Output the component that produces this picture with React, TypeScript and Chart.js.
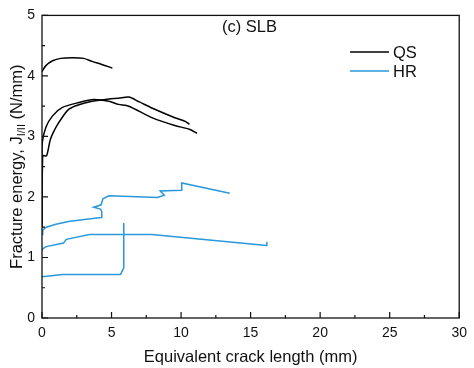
import React, { useEffect, useRef } from "react";
import { Chart, registerables } from "chart.js";

Chart.register(...registerables);

const xTicks = [0, 5, 10, 15, 20, 25, 30];
const yTicks = [0, 1, 2, 3, 4, 5];
const seriesNames = ["QS", "HR"];
const panelLabel = "(c) SLB";

// QS curves
const qs1X = [0, 0.28, 0.76, 1.35, 2.2, 3.0, 3.6, 4.3, 5.06];
const qs1Y = [4.07, 4.17, 4.25, 4.29, 4.3, 4.29, 4.24, 4.19, 4.13];

const qs2X = [0.0, 0.05, 0.33, 0.6, 1.0, 1.5, 1.94, 2.6, 3.6, 4.82, 5.5, 6.24, 7.0, 7.9, 9.55, 10.3, 10.6];
const qs2Y = [1.55, 2.68, 2.68, 2.95, 3.15, 3.33, 3.45, 3.52, 3.58, 3.62, 3.63, 3.65, 3.57, 3.47, 3.31, 3.25, 3.2];

const qs3X = [0.0, 0.0, 0.28, 0.76, 1.47, 2.65, 3.7, 4.8, 5.5, 6.24, 7.9, 9.55, 10.6, 11.15];
const qs3Y = [1.5, 2.83, 3.15, 3.34, 3.48, 3.56, 3.61, 3.58, 3.53, 3.5, 3.31, 3.18, 3.12, 3.05];

// HR curves
const hr1X = [0.0, 0.05, 0.3, 1.0, 2.0, 4.25, 4.3, 4.2, 3.72, 4.25, 4.38, 4.8, 8.3, 8.8, 8.5, 10.05, 10.05, 13.5];
const hr1Y = [1.38, 1.45, 1.5, 1.55, 1.6, 1.66, 1.76, 1.8, 1.83, 1.87, 1.97, 2.02, 1.99, 2.03, 2.1, 2.11, 2.23, 2.06];

const hr2X = [0.0, 0.1, 0.3, 1.55, 1.75, 3.4, 7.9, 16.15, 16.17];
const hr2Y = [1.12, 1.15, 1.18, 1.24, 1.3, 1.38, 1.38, 1.2, 1.26];

const hr3X = [0.0, 1.5, 5.65, 5.8, 5.88, 5.88];
const hr3Y = [0.68, 0.72, 0.72, 0.79, 0.83, 1.57];

const QS_COLOR = "#000000";
const HR_COLOR = "#2A98DC";
const FONT = "'Liberation Sans', Arial, sans-serif";

function pts(xs: number[], ys: number[]) {
  return xs.map((x, i) => ({ x, y: ys[i] }));
}

const decorPlugin = {
  id: "decor",
  afterDraw(chart: any) {
    const ctx = chart.ctx as CanvasRenderingContext2D;
    const { left, right, top, bottom } = chart.chartArea;
    const xs = chart.scales.x;
    const ys = chart.scales.y;
    ctx.save();
    ctx.strokeStyle = "#111";
    ctx.lineWidth = 1.3;
    ctx.strokeRect(left, top, right - left, bottom - top);
    ctx.lineWidth = 1.2;
    ctx.beginPath();
    for (let v = 0; v <= 30; v += 2.5) {
      const px = xs.getPixelForValue(v);
      const len = v % 5 === 0 ? 6 : 3;
      ctx.moveTo(px, bottom);
      ctx.lineTo(px, bottom - len);
    }
    for (let v = 0; v <= 5; v += 0.5) {
      const py = ys.getPixelForValue(v);
      const len = Math.abs(v % 1) < 1e-9 ? 6 : 3;
      ctx.moveTo(left, py);
      ctx.lineTo(left + len, py);
    }
    ctx.stroke();

    // panel label
    ctx.fillStyle = "#111";
    ctx.font = `16.5px ${FONT}`;
    ctx.textBaseline = "middle";
    ctx.textAlign = "left";
    ctx.fillText(panelLabel, 222, 27);

    // legend
    const legY = [52, 71];
    const cols = [QS_COLOR, HR_COLOR];
    seriesNames.forEach((n, i) => {
      ctx.strokeStyle = cols[i];
      ctx.lineWidth = 1.5;
      ctx.beginPath();
      ctx.moveTo(350, legY[i]);
      ctx.lineTo(389, legY[i]);
      ctx.stroke();
      ctx.fillStyle = "#111";
      ctx.fillText(n, 393, legY[i] + 1);
    });

    // x title
    ctx.textAlign = "center";
    ctx.fillText("Equivalent crack length (mm)", (left + right) / 2, 357);

    // y title with subscript
    ctx.translate(17, (top + bottom) / 2);
    ctx.rotate(-Math.PI / 2);
    const main1 = "Fracture energy, J";
    const sub = "I/II";
    const main2 = " (N/mm)";
    ctx.font = `16.5px ${FONT}`;
    const w1 = ctx.measureText(main1).width;
    const w3 = ctx.measureText(main2).width;
    ctx.font = `11px ${FONT}`;
    const w2 = ctx.measureText(sub).width;
    const total = w1 + w2 + w3;
    let x0 = -total / 2;
    ctx.textAlign = "left";
    ctx.font = `16.5px ${FONT}`;
    ctx.fillText(main1, x0, 0);
    x0 += w1;
    ctx.font = `11px ${FONT}`;
    ctx.fillText(sub, x0, 5);
    x0 += w2;
    ctx.font = `16.5px ${FONT}`;
    ctx.fillText(main2, x0, 0);
    ctx.restore();
  },
};

export default function App() {
  const ref = useRef<HTMLCanvasElement | null>(null);
  useEffect(() => {
    if (!ref.current) return;
    const ds = (data: any[], color: string, tension: number) => ({
      data,
      borderColor: color,
      backgroundColor: color,
      borderWidth: 1.5,
      pointRadius: 0,
      showLine: true,
      tension,
    });
    const chart = new Chart(ref.current, {
      type: "scatter",
      data: {
        datasets: [
          ds(pts(qs1X, qs1Y), QS_COLOR, 0.3),
          ds(pts(qs2X, qs2Y), QS_COLOR, 0.25),
          ds(pts(qs3X, qs3Y), QS_COLOR, 0.25),
          ds(pts(hr1X, hr1Y), HR_COLOR, 0),
          ds(pts(hr2X, hr2Y), HR_COLOR, 0),
          ds(pts(hr3X, hr3Y), HR_COLOR, 0),
        ],
      },
      options: {
        animation: false,
        responsive: false,
        devicePixelRatio: 1,
        layout: { padding: { left: 0, right: 9, top: 10, bottom: 0 } },
        plugins: { legend: { display: false }, tooltip: { enabled: false } },
        scales: {
          x: {
            type: "linear",
            min: 0,
            max: 30,
            afterFit: (s: any) => {
              s.height = 50;
            },
            afterBuildTicks: (s: any) => {
              s.ticks = xTicks.map((v) => ({ value: v }));
            },
            grid: { display: false, drawTicks: false },
            border: { display: false },
            ticks: {
              padding: 7,
              color: "#111",
              font: { family: FONT, size: 14 },
              maxRotation: 0,
              autoSkip: false,
            },
          },
          y: {
            type: "linear",
            min: 0,
            max: 5,
            afterFit: (s: any) => {
              s.width = 42;
            },
            afterBuildTicks: (s: any) => {
              s.ticks = yTicks.map((v) => ({ value: v }));
            },
            grid: { display: false, drawTicks: false },
            border: { display: false },
            ticks: {
              padding: 7,
              color: "#111",
              font: { family: FONT, size: 14 },
              autoSkip: false,
            },
          },
        },
      },
      plugins: [decorPlugin],
    } as any);
    return () => chart.destroy();
  }, []);
  return (
    <div style={{ position: "fixed", left: 0, top: 0, width: 474, height: 368, background: "#fff" }}>
      <canvas ref={ref} width={474} height={368} style={{ display: "block" }} />
    </div>
  );
}
